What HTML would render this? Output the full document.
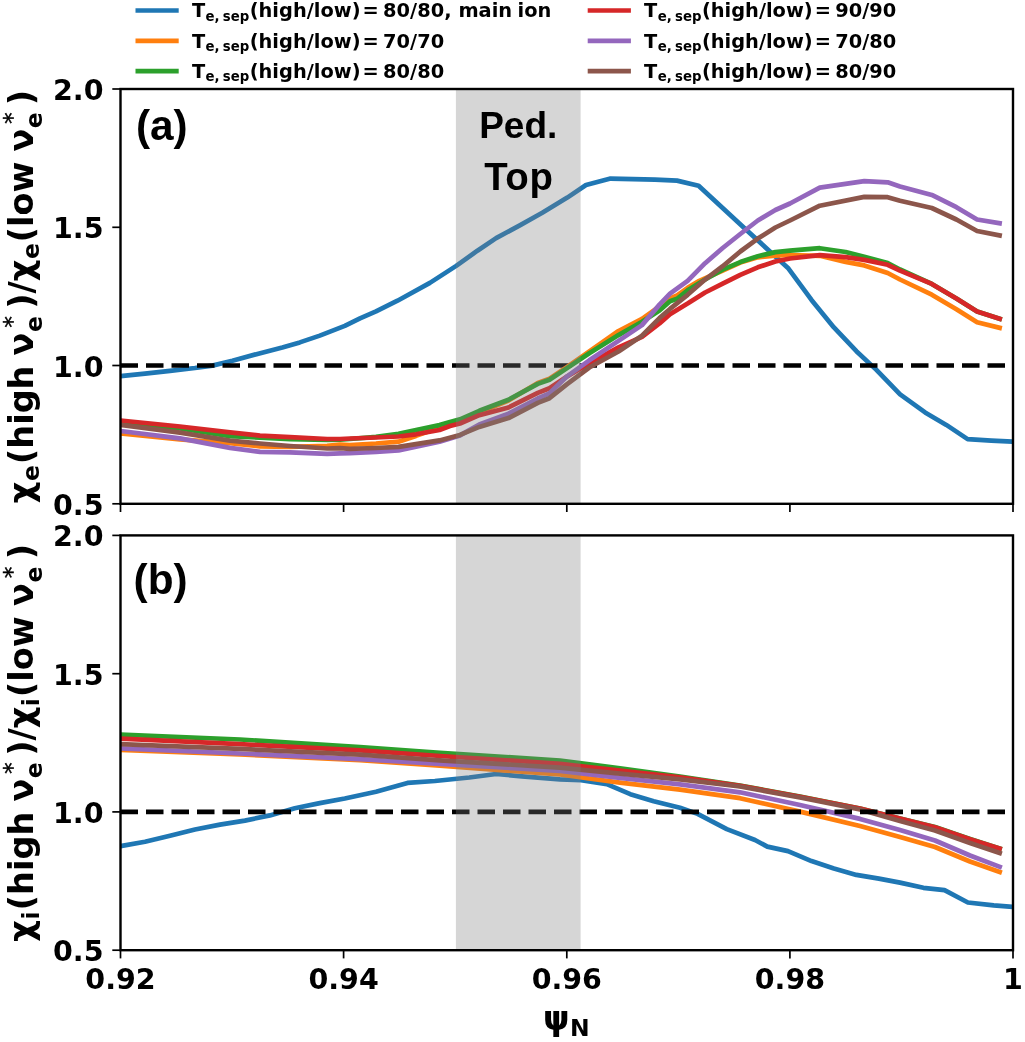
<!DOCTYPE html>
<html lang="en"><head><meta charset="utf-8"><title>Transport ratio profiles</title>
<style>html,body{margin:0;padding:0;background:#fff}svg{display:block}text{font-family:"DejaVu Sans","Liberation Sans",sans-serif;font-weight:bold;fill:#000}.lib{font-family:"Liberation Sans","DejaVu Sans",sans-serif}.cur polyline{fill:none;stroke-width:4.7;stroke-linejoin:round;stroke-linecap:butt}.tk line{stroke:#000;stroke-width:1.7}</style></head><body>
<svg width="1025" height="1042" viewBox="0 0 1025 1042">
<rect width="1025" height="1042" fill="#fff"/>
<g class="cur">
<polyline points="120.5,376.2 145.0,373.6 170.0,370.8 194.9,368.0 212.4,365.6 232.4,360.7 257.4,353.9 282.3,347.5 299.8,342.4 319.8,335.6 344.8,325.9 360.0,318.4 376.0,311.3 397.5,300.7 429.9,282.9 456.2,265.9 477.4,250.7 496.1,238.1 519.8,225.4 542.3,212.7 567.3,197.6 586.0,185.0 610.5,178.6 633.0,179.1 655.0,179.6 677.0,180.6 698.6,185.7 744.8,228.4 788.5,268.6 811.5,299.9 833.9,327.4 856.4,351.2 876.4,369.9 900.1,394.4 925.1,412.4 946.3,424.9 967.6,439.1 991.3,440.6 1012.5,441.6" stroke="#1f77b4"/>
<line x1="120.5" y1="365.5" x2="1013.0" y2="365.5" stroke="#000" stroke-width="4.7" stroke-dasharray="17.5 8"/>
<polyline points="120.5,433.3 180.0,439.3 230.0,443.1 260.0,446.3 290.0,446.8 327.2,445.9 340.0,444.6 350.0,445.0 376.0,443.5 398.5,441.7 416.0,435.9 439.5,427.5 460.0,421.4 479.3,412.5 508.5,400.5 537.8,383.0 549.5,378.8 567.1,367.0 589.3,351.5 618.5,331.0 642.0,318.9 659.5,306.4 670.0,298.4 677.1,295.3 687.6,287.8 699.3,280.8 722.7,270.5 740.3,262.6 757.8,257.3 775.4,255.7 790.0,255.0 819.8,255.8 845.6,261.9 864.3,265.4 887.7,273.0 900.0,279.5 931.8,294.7 956.4,309.3 977.1,322.3 1001.9,328.4" stroke="#ff7f0e"/>
<polyline points="120.5,422.3 180.0,428.5 230.0,436.2 260.0,437.7 290.0,439.1 327.2,439.9 340.0,439.6 350.0,439.0 376.0,436.8 398.5,433.9 439.5,425.1 450.0,422.0 460.0,419.3 479.3,410.8 508.5,399.7 537.8,383.9 549.5,379.8 567.1,368.1 589.3,353.2 618.5,335.1 642.0,321.8 659.5,310.5 670.0,301.3 677.1,298.8 687.6,290.2 705.1,279.5 722.7,269.7 740.3,262.1 757.8,256.2 775.4,252.1 790.0,250.6 819.8,248.2 845.6,252.0 864.3,256.7 887.7,263.1 900.0,269.5 931.8,283.9 956.4,298.5 977.1,311.6 1001.9,319.5" stroke="#2ca02c"/>
<polyline points="120.5,420.5 180.0,426.5 230.0,432.4 260.0,435.6 290.0,437.1 327.2,439.0 340.0,439.0 350.0,438.5 376.0,437.5 398.5,436.5 416.0,434.3 439.5,430.0 450.0,426.0 460.0,423.5 479.3,415.2 508.5,407.5 537.8,392.9 549.5,388.2 567.1,376.5 589.3,363.2 618.5,347.4 642.0,336.8 659.5,323.4 670.0,314.2 687.6,303.6 705.1,292.5 722.7,283.7 740.3,274.9 757.8,267.3 775.4,261.5 790.0,258.5 819.8,255.2 845.6,257.2 864.3,259.9 887.7,264.8 900.0,270.7 931.8,283.9 956.4,298.5 977.1,311.6 1001.9,319.5" stroke="#d62728"/>
<polyline points="120.5,431.0 180.0,438.4 230.0,447.9 260.0,451.8 290.0,452.4 327.2,453.8 340.0,453.4 350.0,453.2 376.0,452.0 398.5,450.5 439.5,441.7 460.0,435.4 479.3,424.5 508.5,413.7 537.8,398.5 549.5,393.3 567.1,376.3 589.3,360.3 618.5,340.9 642.0,325.1 659.5,304.6 670.0,293.7 687.6,280.8 705.1,263.2 722.7,248.0 740.3,234.0 757.8,220.5 775.4,210.0 790.0,203.5 819.8,187.6 864.3,181.1 887.7,182.3 900.0,186.4 931.8,194.9 956.4,207.2 977.1,219.5 1001.9,223.6" stroke="#9467bd"/>
<polyline points="120.5,424.8 180.0,432.6 230.0,440.6 260.0,443.5 290.0,446.0 327.2,448.5 340.0,448.2 350.0,448.8 376.0,448.0 398.5,446.9 439.5,440.4 460.0,434.9 479.3,426.9 508.5,418.1 537.8,402.9 549.5,398.2 567.1,384.1 589.3,367.5 618.5,351.5 642.0,335.7 659.5,318.1 670.0,308.9 687.6,294.8 705.1,279.6 722.7,266.2 740.3,251.5 757.8,238.6 775.4,227.5 790.0,220.5 819.8,205.7 864.3,196.9 887.7,197.2 900.0,200.7 931.8,208.0 956.4,219.5 977.1,231.0 1001.9,235.9" stroke="#8c564b"/>
</g>
<rect x="455.9" y="89.0" width="124.7" height="414.8" fill="#808080" fill-opacity="0.32"/>
<g class="tk">
<line x1="112.3" y1="503.8" x2="120.5" y2="503.8"/>
<line x1="112.3" y1="365.5" x2="120.5" y2="365.5"/>
<line x1="112.3" y1="227.3" x2="120.5" y2="227.3"/>
<line x1="112.3" y1="89.0" x2="120.5" y2="89.0"/>
<line x1="120.5" y1="503.8" x2="120.5" y2="512.0"/>
<line x1="343.6" y1="503.8" x2="343.6" y2="512.0"/>
<line x1="566.8" y1="503.8" x2="566.8" y2="512.0"/>
<line x1="789.9" y1="503.8" x2="789.9" y2="512.0"/>
<line x1="1013.0" y1="503.8" x2="1013.0" y2="512.0"/>
</g>
<rect x="120.5" y="89.0" width="892.5" height="414.8" fill="none" stroke="#000" stroke-width="2.4"/>
<text x="103.5" y="514.8" font-size="28.5" text-anchor="end">0.5</text>
<text x="103.5" y="376.5" font-size="28.5" text-anchor="end">1.0</text>
<text x="103.5" y="238.3" font-size="28.5" text-anchor="end">1.5</text>
<text x="103.5" y="100.0" font-size="28.5" text-anchor="end">2.0</text>
<g class="cur">
<polyline points="120.5,846.1 145.0,841.7 170.0,835.7 195.0,829.5 220.0,824.6 244.9,820.6 269.9,815.4 294.8,808.3 319.8,803.1 344.8,798.5 376.0,791.7 385.0,789.3 407.5,782.9 434.9,781.0 469.3,777.5 496.2,774.0 522.0,776.3 560.0,779.3 581.1,780.1 606.8,784.2 630.3,794.2 653.7,801.2 680.0,807.8 697.6,813.9 726.8,829.1 755.0,840.0 767.3,846.6 788.0,851.1 811.5,861.1 833.9,868.6 856.4,874.9 878.9,878.6 900.0,882.6 923.4,887.8 944.5,890.2 967.9,902.5 993.7,905.4 1012.5,906.8" stroke="#1f77b4"/>
<polyline points="120.5,750.0 240.0,754.4 360.0,760.2 440.0,765.6 560.0,774.5 620.0,782.6 680.0,789.6 740.0,798.2 800.0,811.6 860.0,826.0 900.0,837.0 935.0,847.0 970.0,861.5 1001.9,872.8" stroke="#ff7f0e"/>
<polyline points="120.5,734.6 240.0,739.5 360.0,747.1 440.0,752.8 560.0,760.5 620.0,768.3 680.0,776.5 740.0,785.5 800.0,796.5 860.0,808.5 900.0,818.5 935.0,827.0 970.0,839.0 1001.9,849.2" stroke="#2ca02c"/>
<polyline points="120.5,738.6 240.0,744.2 360.0,750.3 440.0,756.0 560.0,763.9 620.0,770.6 680.0,777.4 740.0,785.8 800.0,796.8 860.0,808.5 900.0,818.5 935.0,827.2 970.0,839.1 1001.9,849.2" stroke="#d62728"/>
<polyline points="120.5,748.4 240.0,753.5 360.0,759.1 440.0,763.8 560.0,771.0 620.0,777.9 680.0,784.3 740.0,792.3 800.0,805.0 860.0,818.9 900.0,830.0 935.0,840.5 970.0,855.5 1001.9,867.6" stroke="#9467bd"/>
<polyline points="120.5,744.1 240.0,748.9 360.0,754.7 440.0,760.4 560.0,767.6 620.0,773.6 680.0,779.3 740.0,786.5 800.0,797.5 860.0,809.5 900.0,821.0 935.0,830.5 970.0,843.0 1001.9,853.8" stroke="#8c564b"/>
<line x1="120.5" y1="811.9" x2="1013.0" y2="811.9" stroke="#000" stroke-width="4.7" stroke-dasharray="17.5 8"/>
</g>
<rect x="455.9" y="535.4" width="124.7" height="414.8" fill="#808080" fill-opacity="0.32"/>
<g class="tk">
<line x1="112.3" y1="950.2" x2="120.5" y2="950.2"/>
<line x1="112.3" y1="811.9" x2="120.5" y2="811.9"/>
<line x1="112.3" y1="673.7" x2="120.5" y2="673.7"/>
<line x1="112.3" y1="535.4" x2="120.5" y2="535.4"/>
<line x1="120.5" y1="950.2" x2="120.5" y2="958.4"/>
<line x1="343.6" y1="950.2" x2="343.6" y2="958.4"/>
<line x1="566.8" y1="950.2" x2="566.8" y2="958.4"/>
<line x1="789.9" y1="950.2" x2="789.9" y2="958.4"/>
<line x1="1013.0" y1="950.2" x2="1013.0" y2="958.4"/>
</g>
<rect x="120.5" y="535.4" width="892.5" height="414.8" fill="none" stroke="#000" stroke-width="2.4"/>
<text x="103.5" y="961.2" font-size="28.5" text-anchor="end">0.5</text>
<text x="103.5" y="822.9" font-size="28.5" text-anchor="end">1.0</text>
<text x="103.5" y="684.7" font-size="28.5" text-anchor="end">1.5</text>
<text x="103.5" y="546.4" font-size="28.5" text-anchor="end">2.0</text>
<text x="120.5" y="989" font-size="28.5" text-anchor="middle">0.92</text>
<text x="343.6" y="989" font-size="28.5" text-anchor="middle">0.94</text>
<text x="566.8" y="989" font-size="28.5" text-anchor="middle">0.96</text>
<text x="789.9" y="989" font-size="28.5" text-anchor="middle">0.98</text>
<text x="1013.0" y="989" font-size="28.5" text-anchor="middle">1</text>
<text y="1030" font-size="33.5"><tspan x="542.9">ψ</tspan><tspan x="570" dy="6" font-size="23.45">N</tspan></text>
<text transform="translate(33,503.0) rotate(-90)" font-size="33.5"><tspan x="-0.35" y="0.0">χ</tspan><tspan x="22.10" y="5.5" font-size="23.45">e</tspan><tspan x="39.00" y="0.0">(high</tspan><tspan x="147.60" y="0.0">ν</tspan><tspan x="170.90" y="9.0" font-size="23.45">e</tspan><tspan x="175.20" y="-13.0" font-size="23.45" font-weight="normal" stroke="#000" stroke-width="0.45">*</tspan><tspan x="194.30" y="0.0">)/χ</tspan><tspan x="244.00" y="5.5" font-size="23.45">e</tspan><tspan x="260.70" y="0.0">(low</tspan><tspan x="351.50" y="0.0">ν</tspan><tspan x="374.80" y="9.0" font-size="23.45">e</tspan><tspan x="379.10" y="-13.0" font-size="23.45" font-weight="normal" stroke="#000" stroke-width="0.45">*</tspan><tspan x="397.65" y="0.0">)</tspan></text>
<text transform="translate(33,941.5) rotate(-90)" font-size="33.5"><tspan x="-0.35" y="0.0">χ</tspan><tspan x="21.93" y="5.5" font-size="23.45">i</tspan><tspan x="31.30" y="0.0">(high</tspan><tspan x="139.90" y="0.0">ν</tspan><tspan x="163.20" y="9.0" font-size="23.45">e</tspan><tspan x="167.50" y="-13.0" font-size="23.45" font-weight="normal" stroke="#000" stroke-width="0.45">*</tspan><tspan x="185.75" y="0.0">)/χ</tspan><tspan x="235.28" y="5.5" font-size="23.45">i</tspan><tspan x="244.40" y="0.0">(low</tspan><tspan x="335.50" y="0.0">ν</tspan><tspan x="359.00" y="9.0" font-size="23.45">e</tspan><tspan x="363.30" y="-13.0" font-size="23.45" font-weight="normal" stroke="#000" stroke-width="0.45">*</tspan><tspan x="382.25" y="0.0">)</tspan></text>
<text class="lib" x="136" y="139.9" font-size="42.3">(a)</text>
<text class="lib" x="133.6" y="594.3" font-size="42.3">(b)</text>
<text class="lib" x="518.2" y="137.6" font-size="37" text-anchor="middle">Ped.</text>
<text class="lib" x="518.8" y="190" font-size="38.4" text-anchor="middle" letter-spacing="0.6">Top</text>
<line x1="135.5" y1="10.5" x2="178.7" y2="10.5" stroke="#1f77b4" stroke-width="4.7"/>
<text font-size="19.4"><tspan x="191.9" y="17.2">T</tspan><tspan x="205.5" y="20.5" font-size="13.3">e,</tspan><tspan x="222.8" y="20.5" font-size="13.3">sep</tspan><tspan x="249.7" y="17.2">(high/low)</tspan><tspan x="362.6" y="17.2">=</tspan><tspan x="383.1" y="17.2">80/80,</tspan><tspan x="458.4" y="17.2">main</tspan><tspan x="517.6" y="17.2">ion</tspan></text>
<line x1="135.5" y1="40.8" x2="178.7" y2="40.8" stroke="#ff7f0e" stroke-width="4.7"/>
<text font-size="19.4"><tspan x="191.9" y="47.5">T</tspan><tspan x="205.5" y="50.8" font-size="13.3">e,</tspan><tspan x="222.8" y="50.8" font-size="13.3">sep</tspan><tspan x="249.7" y="47.5">(high/low)</tspan><tspan x="362.6" y="47.5">=</tspan><tspan x="383.1" y="47.5">70/70</tspan></text>
<line x1="135.5" y1="71.1" x2="178.7" y2="71.1" stroke="#2ca02c" stroke-width="4.7"/>
<text font-size="19.4"><tspan x="191.9" y="77.8">T</tspan><tspan x="205.5" y="81.1" font-size="13.3">e,</tspan><tspan x="222.8" y="81.1" font-size="13.3">sep</tspan><tspan x="249.7" y="77.8">(high/low)</tspan><tspan x="362.6" y="77.8">=</tspan><tspan x="383.1" y="77.8">80/80</tspan></text>
<line x1="587.7" y1="10.5" x2="630.9" y2="10.5" stroke="#d62728" stroke-width="4.7"/>
<text font-size="19.4"><tspan x="644.1" y="17.2">T</tspan><tspan x="657.7" y="20.5" font-size="13.3">e,</tspan><tspan x="675.0" y="20.5" font-size="13.3">sep</tspan><tspan x="701.9" y="17.2">(high/low)</tspan><tspan x="814.8" y="17.2">=</tspan><tspan x="835.3" y="17.2">90/90</tspan></text>
<line x1="587.7" y1="40.8" x2="630.9" y2="40.8" stroke="#9467bd" stroke-width="4.7"/>
<text font-size="19.4"><tspan x="644.1" y="47.5">T</tspan><tspan x="657.7" y="50.8" font-size="13.3">e,</tspan><tspan x="675.0" y="50.8" font-size="13.3">sep</tspan><tspan x="701.9" y="47.5">(high/low)</tspan><tspan x="814.8" y="47.5">=</tspan><tspan x="835.3" y="47.5">70/80</tspan></text>
<line x1="587.7" y1="71.1" x2="630.9" y2="71.1" stroke="#8c564b" stroke-width="4.7"/>
<text font-size="19.4"><tspan x="644.1" y="77.8">T</tspan><tspan x="657.7" y="81.1" font-size="13.3">e,</tspan><tspan x="675.0" y="81.1" font-size="13.3">sep</tspan><tspan x="701.9" y="77.8">(high/low)</tspan><tspan x="814.8" y="77.8">=</tspan><tspan x="835.3" y="77.8">80/90</tspan></text>
</svg></body></html>
